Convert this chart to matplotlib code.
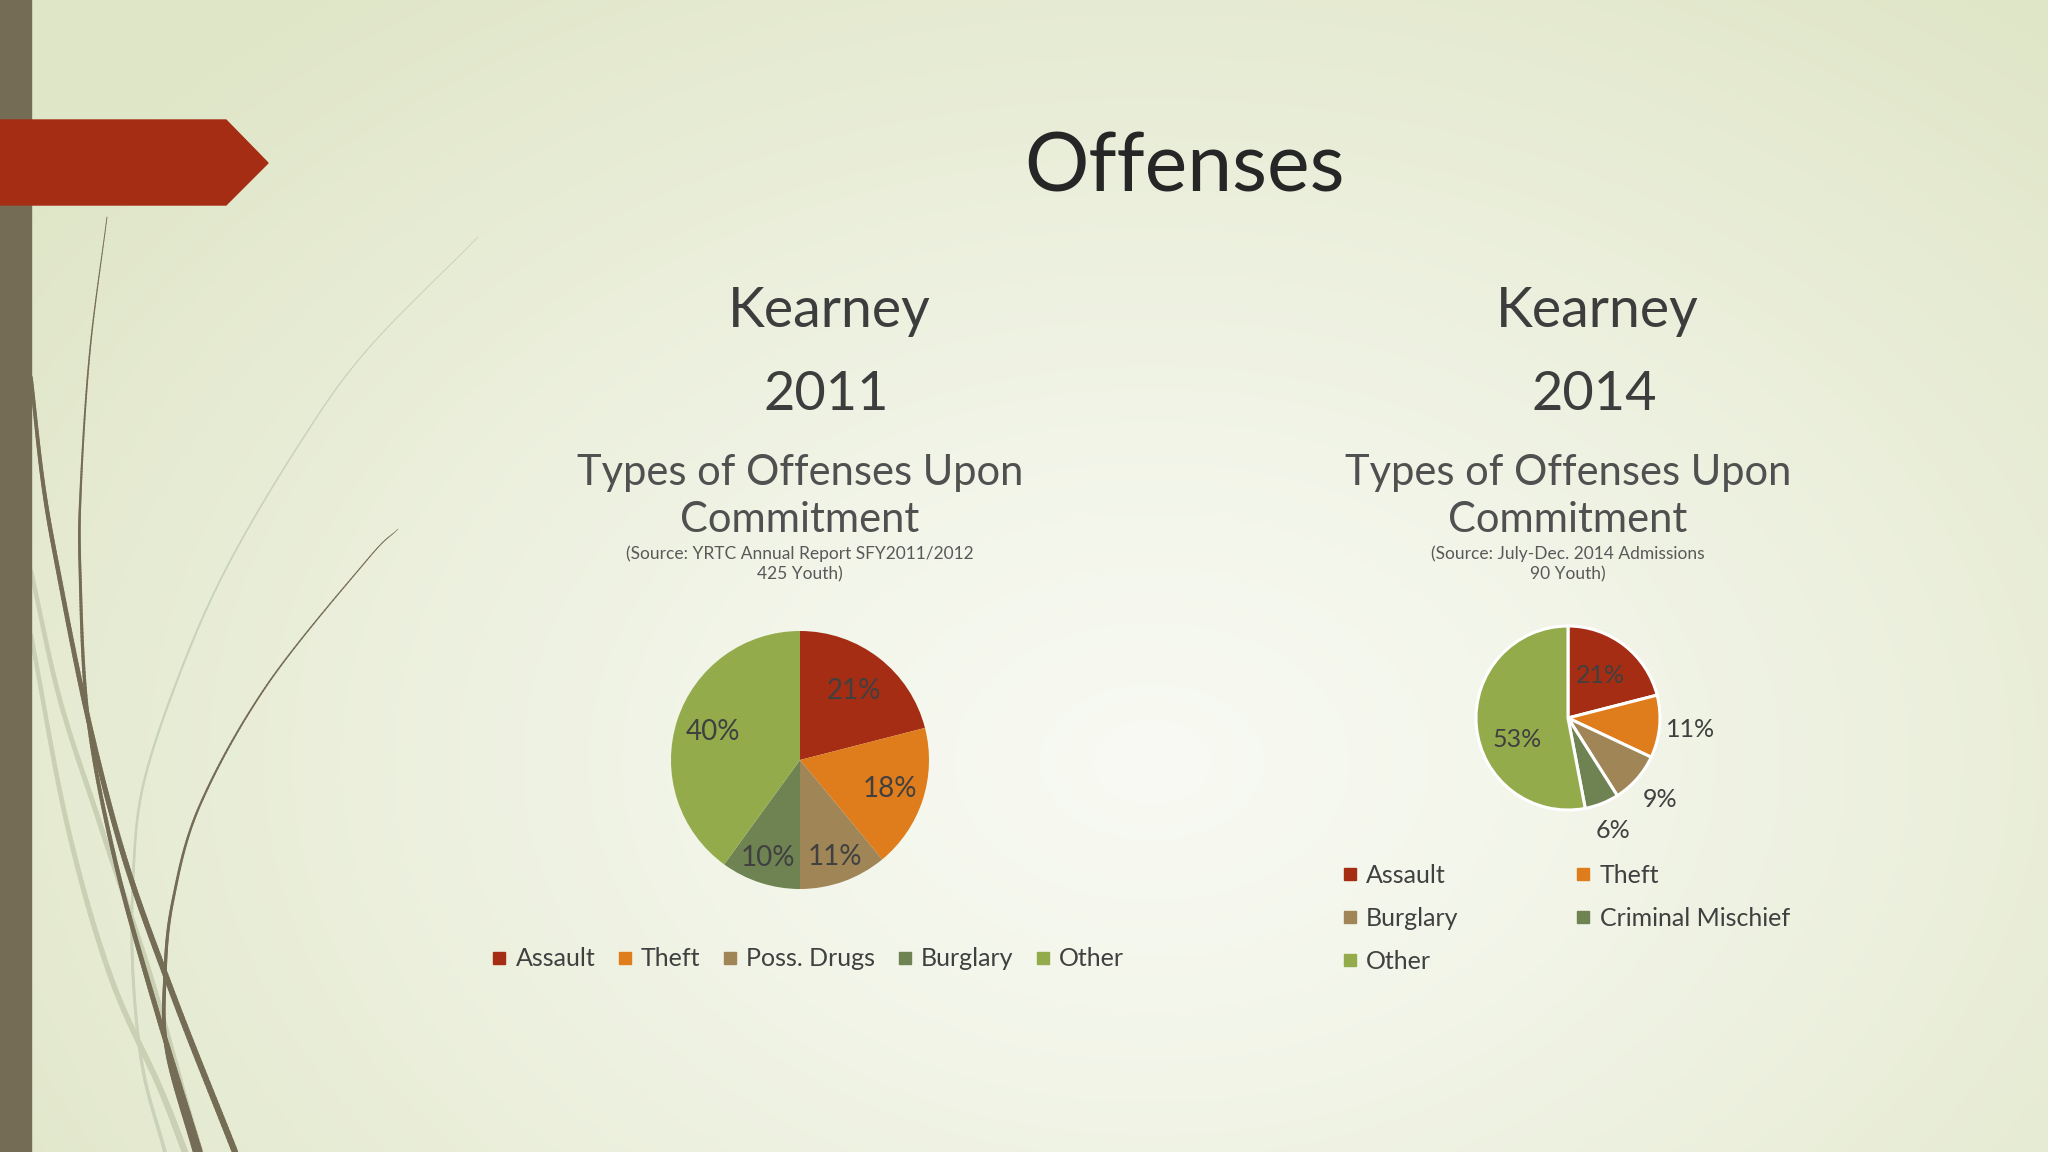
import numpy as np
import matplotlib
matplotlib.use("Agg")
import matplotlib.pyplot as plt
from matplotlib.patches import Rectangle, Polygon
from matplotlib.collections import LineCollection
from matplotlib.lines import Line2D

plt.rcParams['font.family'] = ['Lato', 'DejaVu Sans']

# ---------------- data ----------------
title = "Offenses"
left_heading = ["Kearney", "2011"]
right_heading = ["Kearney", "2014"]
chart_title = ["Types of Offenses Upon", "Commitment"]
left_source = ["(Source: YRTC Annual Report SFY2011/2012", "425 Youth)"]
right_source = ["(Source: July-Dec. 2014 Admissions", "90 Youth)"]

left_categories = ["Assault", "Theft", "Poss. Drugs", "Burglary", "Other"]
left_values = [21, 18, 11, 10, 40]
right_categories = ["Assault", "Theft", "Burglary", "Criminal Mischief", "Other"]
right_values = [21, 11, 9, 6, 53]

# ---------------- styles ----------------
W, H = 2048, 1152
left_colors = ["#a42d14", "#df7c1c", "#a08657", "#6e8252", "#93ab4b"]
right_colors = ["#a42d14", "#df7c1c", "#a08657", "#6e8252", "#93ab4b"]
left_label_dist = [0.68, 0.73, 0.80, 0.80, 0.71]
left_label_shift = [0, 0, 0, 0, 0]
right_label_dist = [0.58, 1.34, 1.34, 1.32, 0.60]
right_label_shift = [0, 0, 0, 0, 18]
TXT = "#404040"

fig = plt.figure(figsize=(W / 100, H / 100), dpi=100)

# background
bg = fig.add_axes([0, 0, 1, 1])
bg.set_xlim(0, W)
bg.set_ylim(H, 0)
bg.axis("off")
yy, xx = np.mgrid[0:H:4, 0:W:4]
d = np.sqrt(((xx - 1150) / 1350.0) ** 2 + ((yy - 760) / 950.0) ** 2)
t = np.clip(d, 0, 1) ** 1.2
inner = np.array([0xf8, 0xfa, 0xf3]) / 255.0
outer = np.array([0xe0, 0xe6, 0xc8]) / 255.0
img = inner[None, None, :] * (1 - t[..., None]) + outer[None, None, :] * t[..., None]
bg.imshow(img, extent=(0, W, H, 0), interpolation="bilinear", aspect="auto", zorder=0)


def catmull(pts, n=40):
    pts = np.asarray(pts, float)
    P = np.vstack([2 * pts[0] - pts[1], pts, 2 * pts[-1] - pts[-2]])
    out = []
    for i in range(1, len(P) - 2):
        p0, p1, p2, p3 = P[i - 1], P[i], P[i + 1], P[i + 2]
        for s in np.linspace(0, 1, n, endpoint=False):
            out.append(0.5 * ((2 * p1) + (-p0 + p2) * s + (2 * p0 - 5 * p1 + 4 * p2 - p3) * s ** 2
                              + (-p0 + 3 * p1 - 3 * p2 + p3) * s ** 3))
    out.append(pts[-1])
    return np.array(out)


def curve(pts, w0, w1, color, alpha=1.0):
    c = catmull(pts)
    segs = np.stack([c[:-1], c[1:]], axis=1)
    widths = np.linspace(w0, w1, len(segs))
    lc = LineCollection(segs, linewidths=widths, colors=color, alpha=alpha,
                        capstyle="round", zorder=1)
    bg.add_collection(lc)


# decorative grass curves (light ones first)
curve([(478, 237), (367, 350), (300, 443), (228, 565), (180, 673), (143, 786),
       (133, 881), (133, 975), (143, 1070), (165, 1152)], 0.6, 2.5, "#cbd2ba")
curve([(31, 571), (60, 700), (100, 824), (150, 975), (187, 1107), (200, 1152)], 3.0, 4.5, "#c9d0b3")
curve([(31, 635), (67, 824), (110, 975), (160, 1088), (185, 1152)], 3.0, 4.5, "#c9d0b3")
curve([(398, 529), (367, 560), (267, 685), (200, 805), (173, 900), (165, 975),
       (167, 1051), (195, 1152)], 0.4, 3.2, "#756c56")
curve([(107, 217), (90, 350), (81, 483), (80, 570), (88, 718), (115, 860),
       (152, 995), (200, 1152)], 0.6, 4.0, "#756c56")
curve([(31, 377), (43, 483), (58, 570), (88, 718), (125, 860), (175, 1000),
       (235, 1152)], 2.5, 4.5, "#756c56")

bg.add_patch(Rectangle((0, 0), 31, H, color="#756c56", zorder=2))
bg.add_patch(Polygon([(0, 120), (226, 120), (268, 163), (226, 205), (0, 205)],
                     closed=True, color="#a42d14", zorder=3))

# texts
bg.text(1185, 191, title, ha="center", va="baseline", fontsize=58, color="#262626", zorder=4)
for cx, head in ((829, left_heading), (1597, right_heading)):
    bg.text(cx, 327, head[0], ha="center", va="baseline", fontsize=40, color="#3d3d3d", zorder=4)
    bg.text(cx - 3, 410, head[1], ha="center", va="baseline", fontsize=39, color="#3d3d3d", zorder=4)
for cx, src in ((800, left_source), (1568, right_source)):
    bg.text(cx, 485, chart_title[0], ha="center", va="baseline", fontsize=30, color="#505050", zorder=4)
    bg.text(cx, 532, chart_title[1], ha="center", va="baseline", fontsize=30, color="#505050", zorder=4)
    bg.text(cx, 559.5, src[0], ha="center", va="baseline", fontsize=12.5, color="#595959", zorder=4)
    bg.text(cx, 579.5, src[1], ha="center", va="baseline", fontsize=12.5, color="#595959", zorder=4)


def pie_axes(cx, cy, r):
    ax = fig.add_axes([(cx - 1.5 * r) / W, 1 - (cy + 1.5 * r) / H, 3 * r / W, 3 * r / H])
    ax.axis("off")
    return ax


def place_labels(ax, wedges, values, dists, shifts, fs):
    total = float(sum(values))
    for w, v, dd, sh in zip(wedges, values, dists, shifts):
        ang = np.deg2rad((w.theta1 + w.theta2) / 2.0 + sh)
        ax.text(dd * np.cos(ang), dd * np.sin(ang), f"{100 * v / total:.0f}%",
                ha="center", va="center", fontsize=fs, color=TXT)


# left pie
axL = pie_axes(800, 760, 129)
wl, _ = axL.pie(left_values, colors=left_colors, startangle=90, counterclock=False,
                radius=1.0, wedgeprops=dict(linewidth=0))
axL.set_xlim(-1.5, 1.5)
axL.set_ylim(-1.5, 1.5)
axL.set_aspect("equal")
place_labels(axL, wl, left_values, left_label_dist, left_label_shift, 20)

# right pie
axR = pie_axes(1568, 718, 92)
wr, _ = axR.pie(right_values, colors=right_colors, startangle=90, counterclock=False,
                radius=1.0, wedgeprops=dict(linewidth=2.2, edgecolor="white"))
axR.set_xlim(-1.5, 1.5)
axR.set_ylim(-1.5, 1.5)
axR.set_aspect("equal")
place_labels(axR, wr, right_values, right_label_dist, right_label_shift, 18)

# legends
hl = [Line2D([], [], marker="s", ms=8.5, ls="none", color=c) for c in left_colors]
fig.legend(hl, left_categories, loc="center", bbox_to_anchor=(808 / W, 1 - 959 / H),
           ncol=5, frameon=False, fontsize=18, handlelength=0.6, handletextpad=0.35,
           columnspacing=0.88, borderpad=0, labelcolor=TXT)

hr = [Line2D([], [], marker="s", ms=8.5, ls="none", color=c) for c in right_colors]
order = [0, 2, 4, 1, 3]
fig.legend([hr[i] for i in order], [right_categories[i] for i in order], loc="upper left",
           bbox_to_anchor=(1342 / W, 1 - 864 / H), ncol=2, frameon=False, fontsize=18,
           handlelength=0.6, handletextpad=0.35, columnspacing=4.7, labelspacing=0.8,
           borderpad=0, borderaxespad=0, labelcolor=TXT)

fig.savefig("out.png", dpi=100)
